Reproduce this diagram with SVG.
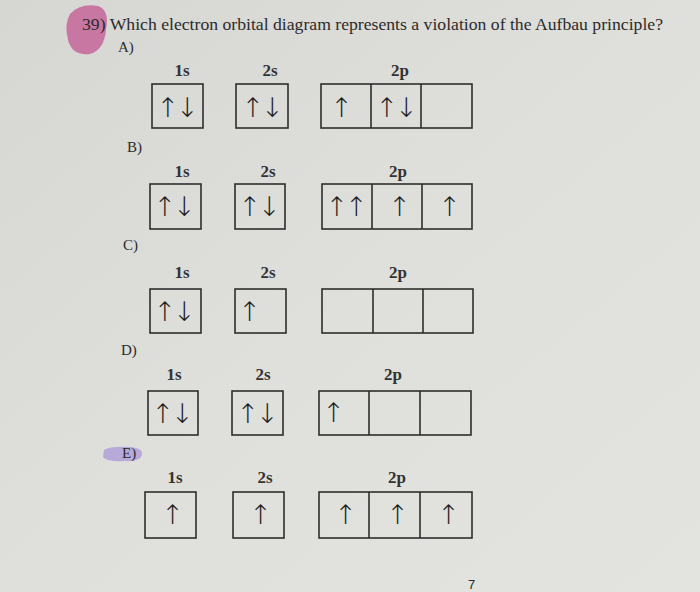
<svg xmlns="http://www.w3.org/2000/svg" width="700" height="592" viewBox="0 0 700 592">
<defs>
<linearGradient id="bg" x1="0" y1="0" x2="1" y2="1">
<stop offset="0" stop-color="#d6d6d3"/>
<stop offset="0.5" stop-color="#dfdfdc"/>
<stop offset="1" stop-color="#e3e3e0"/>
</linearGradient>
<style>
.t{font-family:"Liberation Serif","DejaVu Serif",serif;fill:#2b2b2b}
.q{font-size:17px}
.opt{font-size:15px}
.lb{font-size:17px;text-anchor:middle;font-weight:bold;fill:#333}
.ar{font-family:"DejaVu Sans",sans-serif;font-size:27px;font-weight:300;fill:#1e1e1e;text-anchor:middle;dominant-baseline:central;letter-spacing:-3px}
.bx{fill:none;stroke:#2e2e2e;stroke-width:1.6}
</style>
</defs>
<rect width="700" height="592" fill="url(#bg)"/>
<path d="M70,14 Q80,3 98,6 Q110,10 106,30 Q104,50 90,54 Q72,56 68,40 Q64,24 70,14 Z" fill="#c6669a" opacity="0.85"/>
<path d="M104,450 Q110,446 130,447 Q143,448 142,455 Q140,462 125,461 Q106,462 103,457 Z" fill="#b3a4d8" opacity="0.9"/>
<g id="title"><text class="t q" x="82" y="30" textLength="581" lengthAdjust="spacingAndGlyphs">39) Which electron orbital diagram represents a violation of the Aufbau principle?</text></g>

<g id="optA">
<text class="t opt" x="118" y="52">A)</text>
<text class="t lb" x="182" y="76">1s</text>
<text class="t lb" x="270" y="76">2s</text>
<text class="t lb" x="400" y="76">2p</text>
<g id="A1s"><rect class="bx" x="152" y="84" width="51" height="44"/><text class="ar" x="176" y="107">↑↓</text></g>
<g id="A2s"><rect class="bx" x="236" y="84" width="52" height="44"/><text class="ar" x="261" y="107">↑↓</text></g>
<g id="A2p"><rect class="bx" x="321" y="84" width="151" height="44"/><line class="bx" x1="371" y1="84" x2="371" y2="128"/><line class="bx" x1="421" y1="84" x2="421" y2="128"/><text class="ar" x="340" y="107">↑</text><text class="ar" x="395" y="107">↑↓</text></g>
</g>

<g id="optB">
<text class="t opt" x="127" y="152">B)</text>
<text class="t lb" x="182" y="177">1s</text>
<text class="t lb" x="268" y="177">2s</text>
<text class="t lb" x="398" y="177">2p</text>
<g id="B1s"><rect class="bx" x="150" y="184" width="51" height="45"/><text class="ar" x="173" y="206">↑↓</text></g>
<g id="B2s"><rect class="bx" x="235" y="184" width="50" height="45"/><text class="ar" x="258" y="206">↑↓</text></g>
<g id="B2p"><rect class="bx" x="322" y="184" width="150" height="45"/><line class="bx" x1="372" y1="184" x2="372" y2="229"/><line class="bx" x1="422" y1="184" x2="422" y2="229"/><text class="ar" x="345" y="206">↑↑</text><text class="ar" x="398" y="206">↑</text><text class="ar" x="448" y="206">↑</text></g>
</g>

<g id="optC">
<text class="t opt" x="123" y="250">C)</text>
<text class="t lb" x="182" y="278">1s</text>
<text class="t lb" x="268" y="278">2s</text>
<text class="t lb" x="398" y="278">2p</text>
<g id="C1s"><rect class="bx" x="150" y="289" width="51" height="44"/><text class="ar" x="173" y="311">↑↓</text></g>
<g id="C2s"><rect class="bx" x="235" y="289" width="51" height="44"/><text class="ar" x="248" y="311">↑</text></g>
<g id="C2p"><rect class="bx" x="322" y="289" width="151" height="44"/><line class="bx" x1="373" y1="289" x2="373" y2="333"/><line class="bx" x1="423" y1="289" x2="423" y2="333"/></g>
</g>

<g id="optD">
<text class="t opt" x="121" y="355">D)</text>
<text class="t lb" x="174" y="380">1s</text>
<text class="t lb" x="263" y="380">2s</text>
<text class="t lb" x="393" y="380">2p</text>
<g id="D1s"><rect class="bx" x="148" y="391" width="50" height="44"/><text class="ar" x="171" y="413">↑↓</text></g>
<g id="D2s"><rect class="bx" x="232" y="391" width="51" height="44"/><text class="ar" x="256" y="413">↑↓</text></g>
<g id="D2p"><rect class="bx" x="319" y="391" width="152" height="44"/><line class="bx" x1="369" y1="391" x2="369" y2="435"/><line class="bx" x1="420" y1="391" x2="420" y2="435"/><text class="ar" x="332" y="412">↑</text></g>
</g>

<g id="optE">
<text class="t opt" x="122" y="458">E)</text>
<text class="t lb" x="175" y="483">1s</text>
<text class="t lb" x="265" y="483">2s</text>
<text class="t lb" x="397" y="483">2p</text>
<g id="E1s"><rect class="bx" x="145" y="492" width="51" height="46"/><text class="ar" x="171" y="514">↑</text></g>
<g id="E2s"><rect class="bx" x="233" y="492" width="51" height="46"/><text class="ar" x="259" y="514">↑</text></g>
<g id="E2p"><rect class="bx" x="319" y="492" width="153" height="46"/><line class="bx" x1="369" y1="492" x2="369" y2="538"/><line class="bx" x1="420" y1="492" x2="420" y2="538"/><text class="ar" x="344" y="514">↑</text><text class="ar" x="396" y="514">↑</text><text class="ar" x="447" y="514">↑</text></g>
</g>

<g id="page"><text class="t" style="font-family:'Liberation Sans',sans-serif;font-size:13px" x="468" y="589">7</text></g>
</svg>
